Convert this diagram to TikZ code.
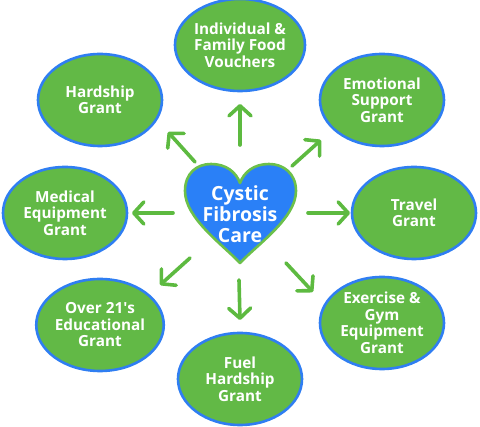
\documentclass[tikz,border=0pt]{standalone}
\usepackage{fontspec}
\setmainfont{Open Sans}
\usetikzlibrary{shapes.geometric,arrows.meta}
\definecolor{leaf}{HTML}{62B946}
\definecolor{rim}{HTML}{2F7EF2}
\definecolor{heartblue}{HTML}{2A80F7}
\definecolor{heartrim}{HTML}{6CC04A}
\definecolor{arrowgreen}{HTML}{5DBA40}
\tikzset{
  grantbox/.style={ellipse, draw=rim, fill=leaf, line width=2.6pt,
    minimum width=124pt, minimum height=92pt, inner sep=0pt,
    text=white, align=center,
    font=\fontsize{15.3}{16.5}\selectfont\bfseries},
  heartlabel/.style={text=white, align=center,
    font=\fontsize{19.5}{21}\selectfont\bfseries},
  arr/.style={draw=arrowgreen, line width=3.6pt, line cap=round,
    -{Straight Barb[length=10pt,width=22pt,line cap=round,round]}}
}
\begin{document}
\begin{tikzpicture}[x=1pt,y=-1pt]
\useasboundingbox (0,0) rectangle (480,427);
% heart
\path[fill=heartblue, draw=heartrim, line width=2.6pt, line join=round]
  (240,263) .. controls (222,244) and (185,218) .. (185,191)
  .. controls (185,173) and (197,164) .. (211,164)
  .. controls (226,164) and (236,172) .. (240,183)
  .. controls (244,172) and (254,164) .. (269,164)
  .. controls (283,164) and (296,173) .. (296,191)
  .. controls (296,218) and (258,244) .. (240,263) -- cycle;
\node[heartlabel] (heart) at (240,214) {Cystic\\Fibrosis\\Care};
% grants
\node[grantbox] (food) at (240,45) {Individual \&\\Family Food\\Vouchers};
\node[grantbox] (hard) at (100,100) {Hardship\\Grant};
\node[grantbox] (emo) at (382,100) {Emotional\\Support\\Grant};
\node[grantbox] (med) at (65,213) {Medical\\Equipment\\Grant};
\node[grantbox] (trav) at (414,213) {Travel\\Grant};
\node[grantbox] (edu) at (100,325) {Over 21\textquotesingle s\\Educational\\Grant};
\node[grantbox] (gym) at (382,323) {Exercise \&\\Gym\\Equipment\\Grant};
\node[grantbox] (fuel) at (240,379) {Fuel\\Hardship\\Grant};
% arrow end points
\coordinate (s1) at (240,145); \coordinate (e1) at (240,104);
\coordinate (s2) at (195,162); \coordinate (e2) at (168,132);
\coordinate (s3) at (292,166); \coordinate (e3) at (321,140);
\coordinate (s4) at (173,213); \coordinate (e4) at (132,213);
\coordinate (s5) at (308,213); \coordinate (e5) at (350,213);
\coordinate (s6) at (190,258); \coordinate (e6) at (160,285);
\coordinate (s7) at (239,280); \coordinate (e7) at (240,320);
\coordinate (s8) at (286,263); \coordinate (e8) at (313,292);
\draw[arr] (s1) -- (e1);
\draw[arr] (s2) -- (e2);
\draw[arr] (s3) -- (e3);
\draw[arr] (s4) -- (e4);
\draw[arr] (s5) -- (e5);
\draw[arr] (s6) -- (e6);
\draw[arr] (s7) -- (e7);
\draw[arr] (s8) -- (e8);
\end{tikzpicture}
\end{document}
